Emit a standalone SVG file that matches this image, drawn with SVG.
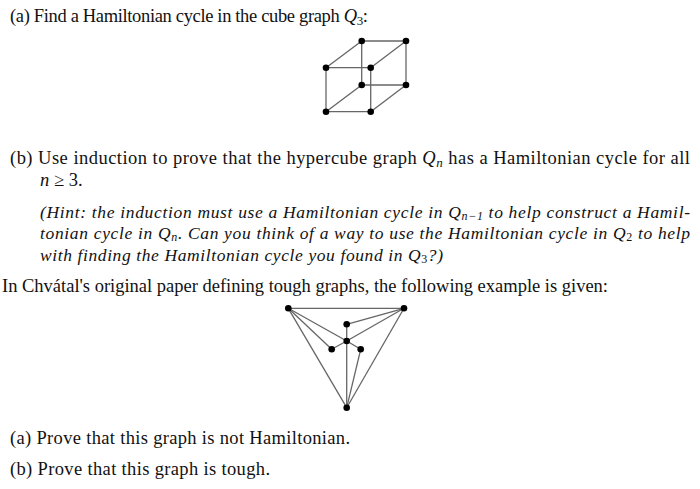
<svg xmlns="http://www.w3.org/2000/svg" width="700" height="489" viewBox="0 0 700 489">
<style>
text{font-family:"Liberation Serif","DejaVu Serif",serif;font-size:18.5px;fill:#111}
.i{font-style:italic}
.h{font-size:17.5px}
line{stroke:#666;stroke-width:1.3}
circle{fill:#000}
</style>
<rect width="700" height="489" fill="#fff"/>
<text x="10" y="22" font-size="18" textLength="358" lengthAdjust="spacing">(a) Find a Hamiltonian cycle in the cube graph <tspan class="i">Q</tspan><tspan font-size="13" dy="3">3</tspan><tspan dy="-3">:</tspan></text>
<text x="10" y="164" textLength="680" lengthAdjust="spacing">(b) Use induction to prove that the hypercube graph <tspan class="i">Q</tspan><tspan class="i" font-size="13" dy="3">n</tspan><tspan dy="-3"> has a Hamiltonian cycle for all</tspan></text>
<text x="40" y="186"><tspan class="i">n</tspan> ≥ 3.</text>
<text class="i h" x="40" y="218" textLength="650" lengthAdjust="spacing">(Hint: the induction must use a Hamiltonian cycle in Q<tspan font-size="12" dy="2">n−1</tspan><tspan dy="-2"> to help construct a Hamil-</tspan></text>
<text class="i h" x="40" y="239" textLength="650" lengthAdjust="spacing">tonian cycle in Q<tspan font-size="12" dy="2">n</tspan><tspan dy="-2">. Can you think of a way to use the Hamiltonian cycle in Q</tspan><tspan font-size="12" dy="2" font-style="normal">2</tspan><tspan dy="-2"> to help</tspan></text>
<text class="i h" x="40" y="261" textLength="403" lengthAdjust="spacing">with finding the Hamiltonian cycle you found in Q<tspan font-size="12" dy="2" font-style="normal">3</tspan><tspan dy="-2">?)</tspan></text>
<text x="2" y="292" textLength="606" lengthAdjust="spacing">In Chvátal's original paper defining tough graphs, the following example is given:</text>
<text x="10" y="444" textLength="340" lengthAdjust="spacing">(a) Prove that this graph is not Hamiltonian.</text>
<text x="10" y="475" textLength="260" lengthAdjust="spacing">(b) Prove that this graph is tough.</text>
<g id="connectors">
<line x1="361.7" y1="41" x2="406" y2="41"/>
<line x1="406" y1="41" x2="406" y2="85"/>
<line x1="361.7" y1="41" x2="361.7" y2="85"/>
<line x1="361.7" y1="41" x2="326" y2="67.7"/>
<line x1="406" y1="41" x2="370.7" y2="67.7"/>
<line x1="326" y1="67.7" x2="370.7" y2="67.7"/>
<line x1="326" y1="111.7" x2="370.7" y2="111.7"/>
<line x1="326" y1="67.7" x2="326" y2="111.7"/>
<line x1="370.7" y1="67.7" x2="370.7" y2="111.7"/>
<line x1="361.7" y1="85" x2="406" y2="85"/>
<line x1="361.7" y1="85" x2="326" y2="111.7"/>
<line x1="406" y1="85" x2="370.7" y2="111.7"/>
<line x1="288.3" y1="308.3" x2="404" y2="308.3"/>
<line x1="288.3" y1="308.3" x2="346.7" y2="341"/>
<line x1="288.3" y1="308.3" x2="331.7" y2="349.3"/>
<line x1="288.3" y1="308.3" x2="346.7" y2="407.7"/>
<line x1="404" y1="308.3" x2="346.7" y2="324.3"/>
<line x1="404" y1="308.3" x2="346.7" y2="341"/>
<line x1="404" y1="308.3" x2="346.7" y2="407.7"/>
<line x1="346.7" y1="324.3" x2="346.7" y2="341"/>
<line x1="346.7" y1="341" x2="331.7" y2="349.3"/>
<line x1="346.7" y1="341" x2="360.7" y2="349.3"/>
<line x1="346.7" y1="341" x2="346.7" y2="407.7"/>
<line x1="360.7" y1="349.3" x2="346.7" y2="407.7"/>
</g>
<g id="q3-nodes">
<g id="c1"><circle cx="361.7" cy="41" r="3.3"/></g>
<g id="c2"><circle cx="406" cy="41" r="3.3"/></g>
<g id="c3"><circle cx="326" cy="67.7" r="3.3"/></g>
<g id="c4"><circle cx="370.7" cy="67.7" r="3.3"/></g>
<g id="c5"><circle cx="361.7" cy="85" r="3.3"/></g>
<g id="c6"><circle cx="406" cy="85" r="3.3"/></g>
<g id="c7"><circle cx="326" cy="111.7" r="3.3"/></g>
<g id="c8"><circle cx="370.7" cy="111.7" r="3.3"/></g>
</g>
<g id="tough-nodes">
<g id="t1"><circle cx="288.3" cy="308.3" r="3.3"/></g>
<g id="t2"><circle cx="404" cy="308.3" r="3.3"/></g>
<g id="t3"><circle cx="346.7" cy="324.3" r="3.3"/></g>
<g id="t4"><circle cx="346.7" cy="341" r="3.3"/></g>
<g id="t5"><circle cx="331.7" cy="349.3" r="3.3"/></g>
<g id="t6"><circle cx="360.7" cy="349.3" r="3.3"/></g>
<g id="t7"><circle cx="346.7" cy="407.7" r="3.3"/></g>
</g>
</svg>
